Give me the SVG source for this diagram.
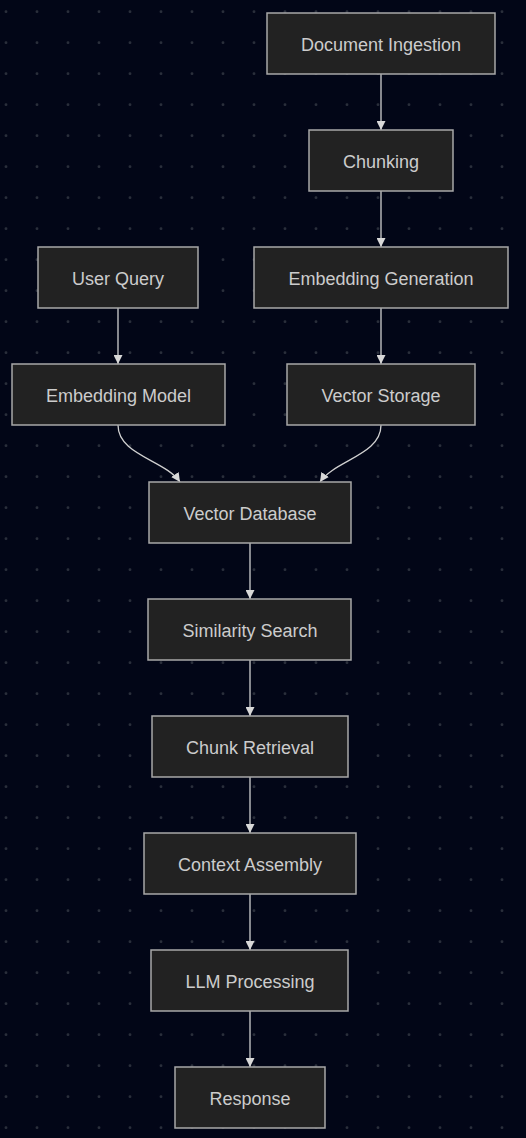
<svg xmlns="http://www.w3.org/2000/svg" width="526" height="1138" viewBox="0 0 526 1138">
<defs>
<pattern id="dots" x="0" y="0" width="31" height="31" patternUnits="userSpaceOnUse">
<circle cx="6" cy="11.7" r="1.4" fill="#2a2f3b"/>
</pattern>
<marker id="arr" viewBox="0 0 10 10" refX="10" refY="5" markerWidth="9" markerHeight="9" markerUnits="userSpaceOnUse" orient="auto">
<path d="M0,0 L10,5 L0,10 z" fill="#d8d8d8"/>
</marker>
<style>
.n rect{fill:#222222;stroke:#a8a8a8;stroke-width:1.5}
.n text{font-family:"Liberation Sans",Arial,sans-serif;font-size:18px;fill:#cccccc;text-anchor:middle;dominant-baseline:central}
.e path{fill:none;stroke:#d0d0d0;stroke-width:1.3;marker-end:url(#arr)}
</style>
</defs>
<rect width="526" height="1138" fill="#020617"/>
<rect width="526" height="1138" fill="url(#dots)"/>
<g class="e" id="connectors">
<path d="M381,74 L381,130"/>
<path d="M381,191 L381,247"/>
<path d="M118,308 L118,364"/>
<path d="M381,308 L381,364"/>
<path d="M118,425 C118,455 165,460 180,482"/>
<path d="M381,425 C381,455 335,460 320,482"/>
<path d="M250,543 L250,599"/>
<path d="M250,660 L250,716"/>
<path d="M250,777 L250,833"/>
<path d="M250,894 L250,950"/>
<path d="M250,1011 L250,1067"/>
</g>
<g class="n" id="doc"><rect x="267" y="13" width="228" height="61"/><text x="381" y="45">Document Ingestion</text></g>
<g class="n" id="chunking"><rect x="309" y="130" width="144" height="61"/><text x="381" y="162">Chunking</text></g>
<g class="n" id="embgen"><rect x="254" y="247" width="254" height="61"/><text x="381" y="279">Embedding Generation</text></g>
<g class="n" id="query"><rect x="38" y="247" width="160" height="61"/><text x="118" y="279">User Query</text></g>
<g class="n" id="embmodel"><rect x="12" y="364" width="213" height="61"/><text x="118.5" y="396">Embedding Model</text></g>
<g class="n" id="vstore"><rect x="287" y="364" width="188" height="61"/><text x="381" y="396">Vector Storage</text></g>
<g class="n" id="vdb"><rect x="149" y="482" width="202" height="61"/><text x="250" y="514">Vector Database</text></g>
<g class="n" id="sim"><rect x="148" y="599" width="203" height="61"/><text x="250" y="631">Similarity Search</text></g>
<g class="n" id="retr"><rect x="152" y="716" width="196" height="61"/><text x="250" y="748">Chunk Retrieval</text></g>
<g class="n" id="ctx"><rect x="144" y="833" width="212" height="61"/><text x="250" y="865">Context Assembly</text></g>
<g class="n" id="llm"><rect x="151" y="950" width="197" height="61"/><text x="250" y="982">LLM Processing</text></g>
<g class="n" id="resp"><rect x="175" y="1067" width="150" height="61"/><text x="250" y="1099">Response</text></g>
</svg>
